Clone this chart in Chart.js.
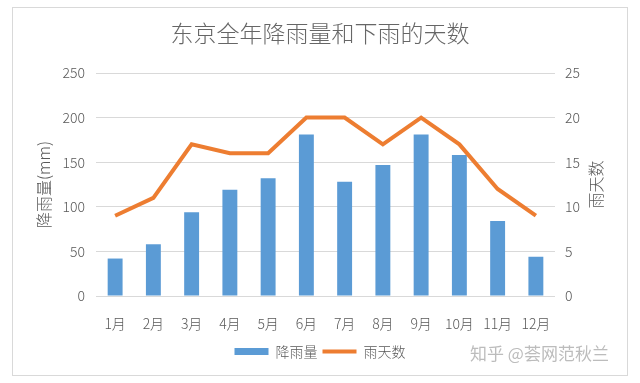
<!DOCTYPE html>
<html><head><meta charset="utf-8">
<script src="https://cdn.jsdelivr.net/npm/chart.js@4/dist/chart.umd.min.js"></script>
<style>html,body{margin:0;padding:0;background:#fff}</style>
</head><body>
<canvas id="c" width="640" height="383" style="display:block;width:640px;height:383px"></canvas>
<script>
const months = ['1月','2月','3月','4月','5月','6月','7月','8月','9月','10月','11月','12月'];
const rainfall = [42, 58, 94, 119, 132, 181, 128, 147, 181, 158, 84, 44];
const rainyDays = [9, 11, 17, 16, 16, 20, 20, 17, 20, 17, 12, 9];
const seriesNames = ['降雨量', '雨天数'];
const chartTitle = '东京全年降雨量和下雨的天数';
const leftAxisTitle = '降雨量(mm)';
const rightAxisTitle = '雨天数';
const watermark = '知乎 @荟网范秋兰';

const FONT = "'Noto Sans CJK SC', 'Noto Sans', sans-serif";
const TXT = '#595959';
const GRID = '#d9d9d9';
const BLUE = '#5B9BD5';
const ORANGE = '#ED7D31';

const framePlugin = {
  id: 'frame',
  beforeDraw(chart) {
    const ctx = chart.ctx;
    ctx.save();
    ctx.fillStyle = '#fff';
    ctx.fillRect(0, 0, chart.width, chart.height);
    ctx.strokeStyle = GRID;
    ctx.lineWidth = 1;
    ctx.strokeRect(12.5, 7.5, 615, 368);
    ctx.restore();
  },
  afterDraw(chart) {
    const ctx = chart.ctx;
    // right axis title, rotated like the left one (reads bottom to top)
    const s = chart.scales.y1;
    ctx.save();
    ctx.fillStyle = TXT;
    ctx.font = "300 16px " + FONT;
    ctx.textAlign = 'center';
    ctx.textBaseline = 'middle';
    ctx.translate(s.right - 24, (chart.chartArea.top + chart.chartArea.bottom) / 2);
    ctx.rotate(-Math.PI / 2);
    ctx.fillText(rightAxisTitle, 0, 0);
    ctx.restore();
    // watermark
    ctx.save();
    ctx.fillStyle = '#bcbcbc';
    ctx.font = "17px " + FONT;
    ctx.textBaseline = 'middle';
    ctx.textAlign = 'left';
    ctx.fillText(watermark, 470, 354);
    ctx.restore();
  }
};

new Chart(document.getElementById('c'), {
  data: {
    labels: months,
    datasets: [
      {
        type: 'bar',
        label: seriesNames[0],
        data: rainfall,
        backgroundColor: BLUE,
        borderWidth: 0,
        yAxisID: 'y',
        barPercentage: 0.39,
        categoryPercentage: 1.0,
        order: 1
      },
      {
        type: 'line',
        label: seriesNames[1],
        data: rainyDays,
        borderColor: ORANGE,
        backgroundColor: ORANGE,
        borderWidth: 4,
        pointRadius: 0,
        tension: 0,
        yAxisID: 'y1',
        order: 0
      }
    ]
  },
  options: {
    responsive: false,
    animation: false,
    devicePixelRatio: 1,
    layout: { padding: { left: 20, right: 20, top: 8, bottom: 14.5 } },
    plugins: {
      title: {
        display: true,
        text: chartTitle,
        color: '#666666',
        font: { family: FONT, size: 23, weight: 300 },
        padding: { top: 11, bottom: 26.4 }
      },
      legend: {
        position: 'bottom',
        labels: {
          color: TXT,
          font: { family: FONT, size: 14, weight: 300 },
          usePointStyle: true,
          pointStyleWidth: 34,
          boxHeight: 7,
          padding: 5,
          generateLabels(chart) {
            const ds = chart.data.datasets;
            return [
              { text: ds[0].label, fillStyle: BLUE, strokeStyle: BLUE, lineWidth: 0, pointStyle: 'rect', datasetIndex: 0, hidden: false, fontColor: TXT },
              { text: ds[1].label, fillStyle: ORANGE, strokeStyle: ORANGE, lineWidth: 4, pointStyle: 'line', datasetIndex: 1, hidden: false, fontColor: TXT }
            ];
          }
        }
      },
      tooltip: { enabled: false }
    },
    scales: {
      x: {
        grid: { display: false },
        border: { display: false },
        ticks: { color: TXT, font: { family: FONT, size: 14, weight: 300 }, padding: 11, maxRotation: 0, autoSkip: false },
        afterFit(s) { s.height = 43.5; }
      },
      y: {
        position: 'left',
        min: 0, max: 250,
        ticks: { stepSize: 50, color: TXT, font: { family: FONT, size: 14, weight: 300 }, padding: 11 },
        grid: { color: GRID, lineWidth: 1, drawTicks: false },
        border: { display: false },
        title: { display: true, text: leftAxisTitle, color: TXT, font: { family: FONT, size: 16, weight: 300 }, padding: { top: 14.4, bottom: 0 } },
        afterFit(s) { s.width = 76; }
      },
      y1: {
        position: 'right',
        min: 0, max: 25,
        ticks: { stepSize: 5, color: TXT, font: { family: FONT, size: 14, weight: 300 }, padding: 10 },
        grid: { drawOnChartArea: false, drawTicks: false },
        border: { display: false },
        title: { display: false, text: rightAxisTitle },
        afterFit(s) { s.width = 65; }
      }
    }
  },
  plugins: [framePlugin]
});
</script>
</body></html>
